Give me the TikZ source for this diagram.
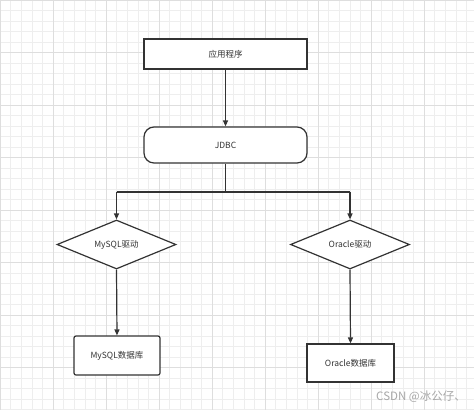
\documentclass[tikz,border=0pt]{standalone}
\usepackage{fontspec}
\setmainfont{Noto Sans CJK SC}
\usetikzlibrary{shapes.geometric,arrows.meta}
\definecolor{gridminor}{HTML}{EEEEEE}
\definecolor{gridmajor}{HTML}{DEDEDE}
\definecolor{ink}{HTML}{333333}
\definecolor{wm}{HTML}{A8A8A8}
\tikzset{
  box/.style={draw=ink, line width=1.2pt, fill=white, inner sep=0pt, font=\fontsize{8.5}{10}\selectfont, text=ink},
  dia/.style={box, diamond, aspect=2.4},
  conn/.style={draw=ink, line width=1.2pt},
  arr/.style={conn, -{Triangle[length=6pt,width=5pt]}},
}
\begin{document}
\begin{tikzpicture}[x=1pt,y=-1pt]
\useasboundingbox (0,0) rectangle (474,410);
\fill[white] (0,0) rectangle (474,410);
\foreach \i in {0,...,45} {
  \pgfmathsetmacro\xx{\i*10.6}
  \draw[gridminor, line width=0.5pt] (\xx,0) -- (\xx,410);
}
\foreach \i in {0,...,39} {
  \pgfmathsetmacro\yy{\i*10.5}
  \draw[gridminor, line width=0.5pt] (0,\yy) -- (474,\yy);
}
\foreach \i in {0,...,9} {
  \pgfmathsetmacro\xx{\i*53}
  \draw[gridmajor, line width=0.6pt] (\xx,0) -- (\xx,410);
}
\foreach \i in {0,...,7} {
  \pgfmathsetmacro\yy{\i*52.5}
  \draw[gridmajor, line width=0.6pt] (0,\yy) -- (474,\yy);
}
\node[box, minimum width=163pt, minimum height=30pt] (app) at (225.5,54) {应用程序};
\node[box, rounded corners=10pt, minimum width=163pt, minimum height=36pt] (jdbc) at (225.5,145) {JDBC};
\node[dia, minimum width=119pt, minimum height=49pt] (mysqld) at (116.5,244.5) {MySQL驱动};
\node[dia, minimum width=119pt, minimum height=49pt] (orad) at (350,244.5) {Oracle驱动};
\node[box, rounded corners=2pt, minimum width=86pt, minimum height=39pt] (mysqldb) at (117,355.5) {MySQL数据库};
\node[box, minimum width=87pt, minimum height=38pt] (oradb) at (350.5,363) {Oracle数据库};
\coordinate (split) at (225.5,192);
\coordinate (lsplit) at (116.5,192);
\coordinate (rsplit) at (350,192);
\draw[arr] (app) -- (jdbc);
\draw[conn] (jdbc.south) -- (split);
\draw[conn] (lsplit) -- (rsplit);
\draw[arr] (lsplit) -- (mysqld.north);
\draw[arr] (rsplit) -- (orad.north);
\draw[arr] (mysqld.south) -- (mysqldb.north);
\draw[arr] (orad.south) -- (oradb.north);
\node[text=wm, font=\fontsize{11.5}{13}\selectfont, anchor=east, inner sep=0pt] (wmark) at (466,397) {CSDN @冰公仔、};
\end{tikzpicture}
\end{document}
